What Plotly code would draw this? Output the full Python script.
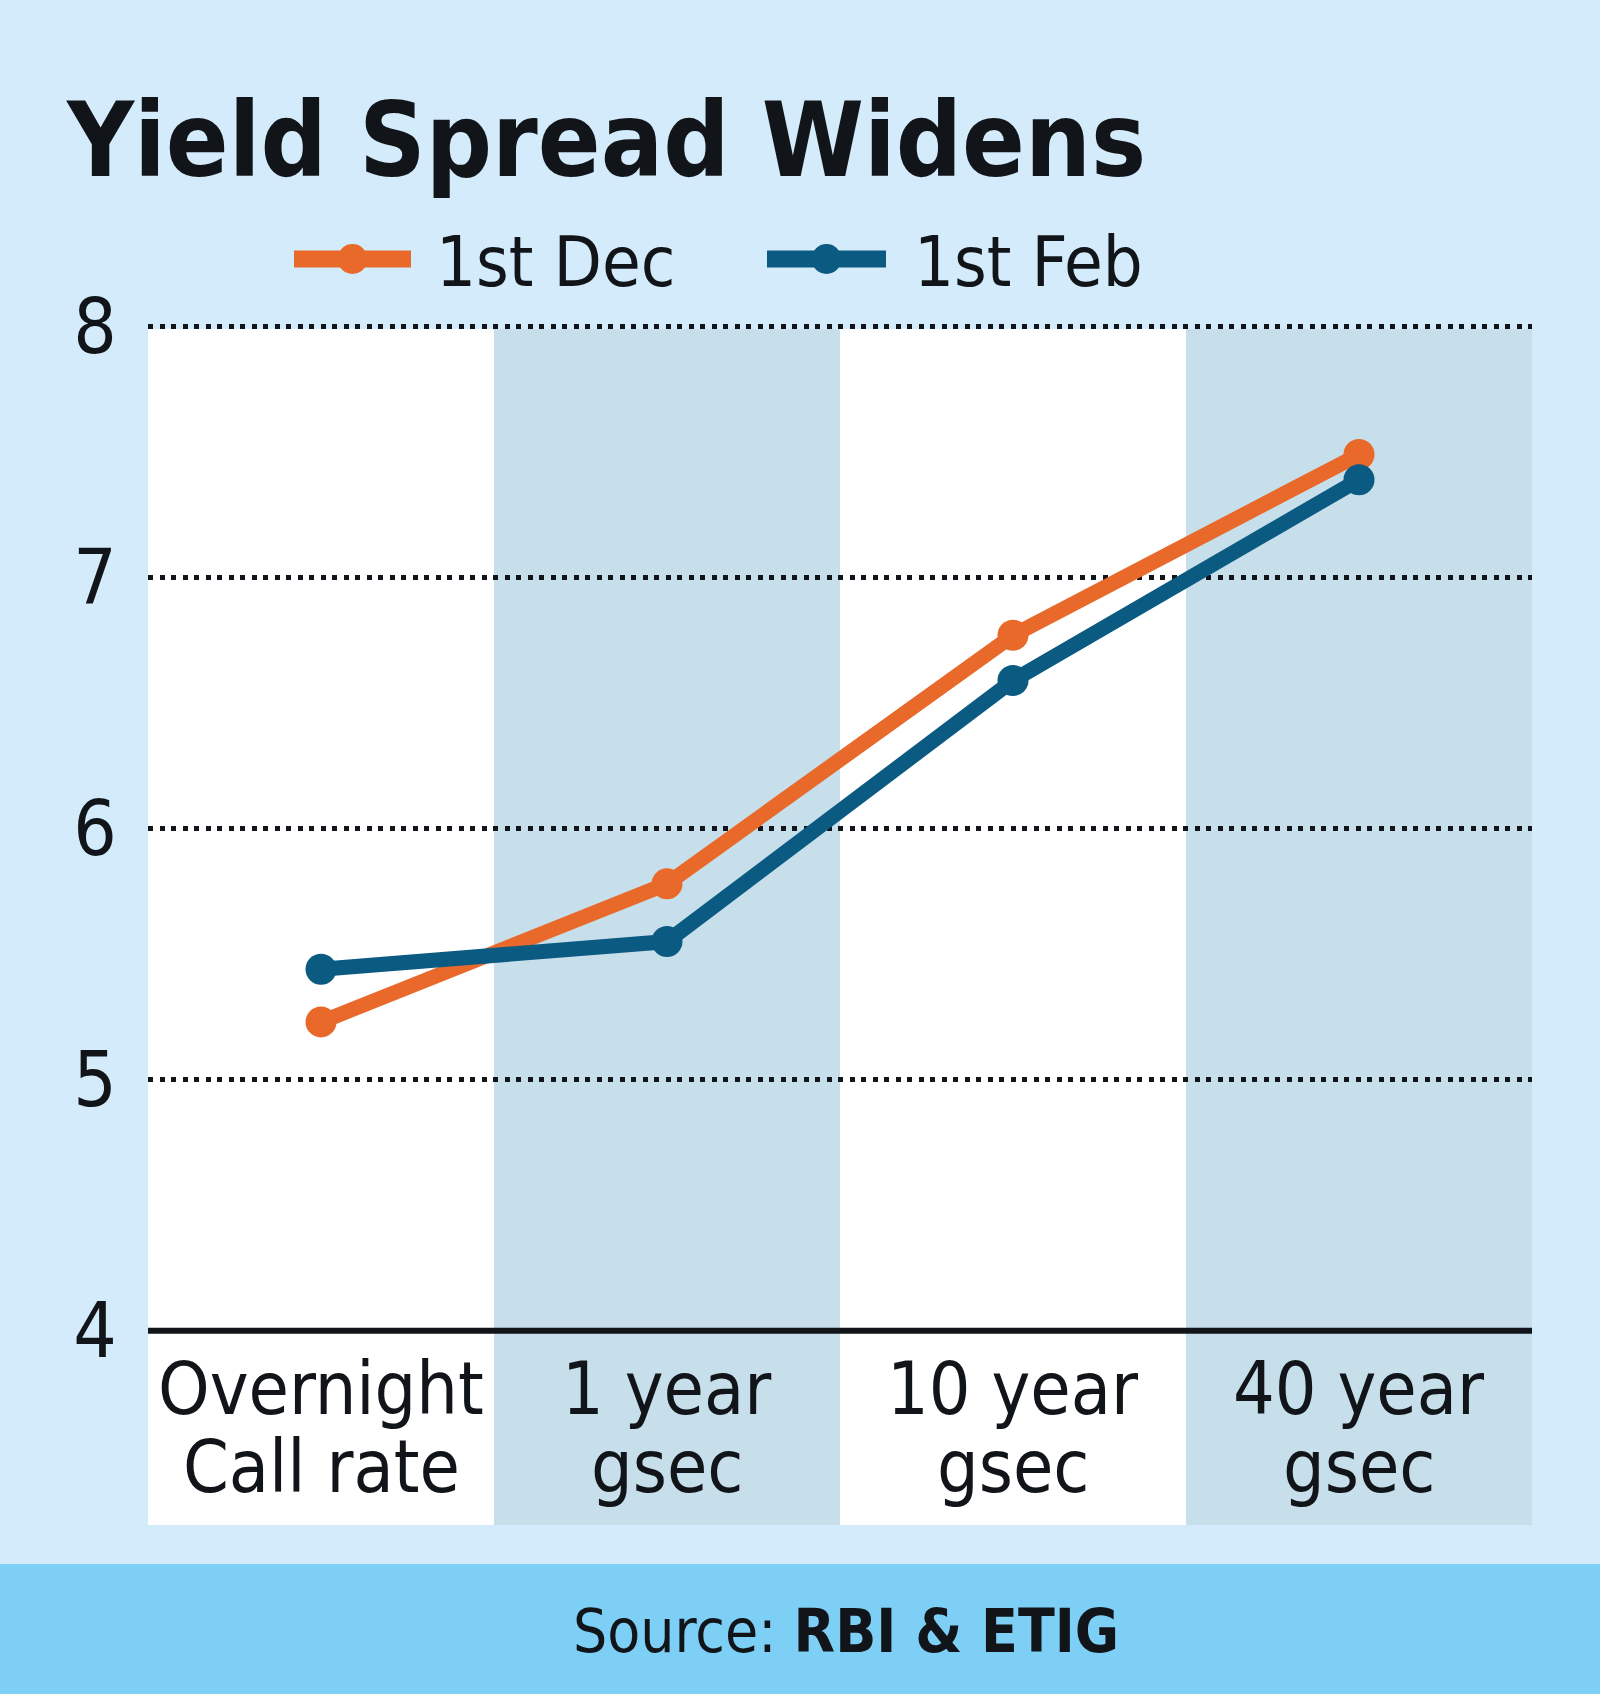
import plotly.graph_objects as go

categories = ["Overnight<br>Call rate", "1 year<br>gsec", "10 year<br>gsec", "40 year<br>gsec"]
dec_values = [5.23, 5.78, 6.77, 7.49]
feb_values = [5.44, 5.55, 6.59, 7.39]
series_names = ["1st Dec", "1st Feb"]
y_ticks = [4, 5, 6, 7, 8]

ORANGE = "#E8692A"
BLUE = "#0B5A82"
BG = "#D3EBFA"
BAND = "#C7DFEA"
FOOT = "#7DCFF5"
INK = "#111418"
FONT = "DejaVu Sans Condensed, sans-serif"

W, H = 1600, 1694
L, R, T, B = 148, 68, 319, 169
pw, ph = W - L - R, H - T - B
Y_MIN, Y_MAX = 3.226, 8.03


def px_x(px):
    return (px - L) / pw


def px_y(py):
    return (H - B - py) / ph


fig = go.Figure()
for name, vals, col in [(series_names[0], dec_values, ORANGE), (series_names[1], feb_values, BLUE)]:
    fig.add_trace(go.Scatter(
        x=list(range(len(categories))), y=vals, name=name, mode="lines+markers",
        line=dict(color=col, width=15), marker=dict(color=col, size=31),
        showlegend=False, cliponaxis=False,
    ))

shapes = []
# column backgrounds (white / band alternating)
for i in range(len(categories)):
    shapes.append(dict(type="rect", xref="x", yref="paper", x0=i - 0.5, x1=i + 0.5,
                       y0=0, y1=px_y(329), fillcolor=BAND if i % 2 else "white",
                       line_width=0, layer="below"))
# baseline at 4
shapes.append(dict(type="line", xref="x", yref="y", x0=-0.5, x1=3.5, y0=4, y1=4,
                   line=dict(color=INK, width=6), layer="above"))
# footer band
shapes.append(dict(type="rect", xref="paper", yref="paper", x0=px_x(0), x1=px_x(W),
                   y0=px_y(H + 5), y1=px_y(1564), fillcolor=FOOT, line_width=0, layer="below"))

annotations = []
# category labels, two lines each
for i, c in enumerate(categories):
    l1, l2 = c.split("<br>")
    annotations.append(dict(x=i, y=px_y(1388), xref="x", yref="paper", text=l1, showarrow=False,
                            font=dict(family=FONT, size=73, color=INK), xanchor="center", yanchor="middle"))
    annotations.append(dict(x=i, y=px_y(1466), xref="x", yref="paper", text=l2, showarrow=False,
                            font=dict(family=FONT, size=73, color=INK), xanchor="center", yanchor="middle"))

# title
annotations.append(dict(x=px_x(64), y=px_y(140), xref="paper", yref="paper",
                        text="<b>Yield Spread Widens</b>", showarrow=False, xanchor="left", yanchor="middle",
                        font=dict(family=FONT, size=103, color=INK)))

# custom legend
legend_items = [(series_names[0], ORANGE, 294, 411, 434), (series_names[1], BLUE, 767, 886, 912)]
for name, col, x0, x1, tx in legend_items:
    shapes.append(dict(type="line", xref="paper", yref="paper", x0=px_x(x0), x1=px_x(x1),
                       y0=px_y(259), y1=px_y(259), line=dict(color=col, width=17)))
    cx = (x0 + x1) / 2
    shapes.append(dict(type="circle", xref="paper", yref="paper", x0=px_x(cx - 15), x1=px_x(cx + 15),
                       y0=px_y(259 + 15), y1=px_y(259 - 15), fillcolor=col, line_width=0))
    annotations.append(dict(x=px_x(tx), y=px_y(262), xref="paper", yref="paper", text=name,
                            showarrow=False, xanchor="left", yanchor="middle",
                            font=dict(family=FONT, size=70, color=INK)))

# source
annotations.append(dict(x=px_x(846), y=px_y(1631), xref="paper", yref="paper",
                        text="Source: <b>RBI &amp; ETIG</b>", showarrow=False, xanchor="center", yanchor="middle",
                        font=dict(family=FONT, size=60, color=INK)))

fig.update_layout(
    width=W, height=H, margin=dict(l=L, r=R, t=T, b=B, pad=0),
    paper_bgcolor=BG, plot_bgcolor="rgba(0,0,0,0)",
    shapes=shapes, annotations=annotations,
    xaxis=dict(range=[-0.5, 3.5], showticklabels=False, showgrid=False, zeroline=False,
               showline=False, fixedrange=True),
    yaxis=dict(range=[Y_MIN, Y_MAX], tickvals=y_ticks, ticktext=[str(v) for v in y_ticks],
               showgrid=True, gridcolor=INK, gridwidth=5, griddash="5px,6.5px",
               zeroline=False, showline=False, ticks="outside", ticklen=15,
               tickcolor="rgba(0,0,0,0)", tickfont=dict(family=FONT, size=76, color=INK)),
)

fig.write_html("out.html")
